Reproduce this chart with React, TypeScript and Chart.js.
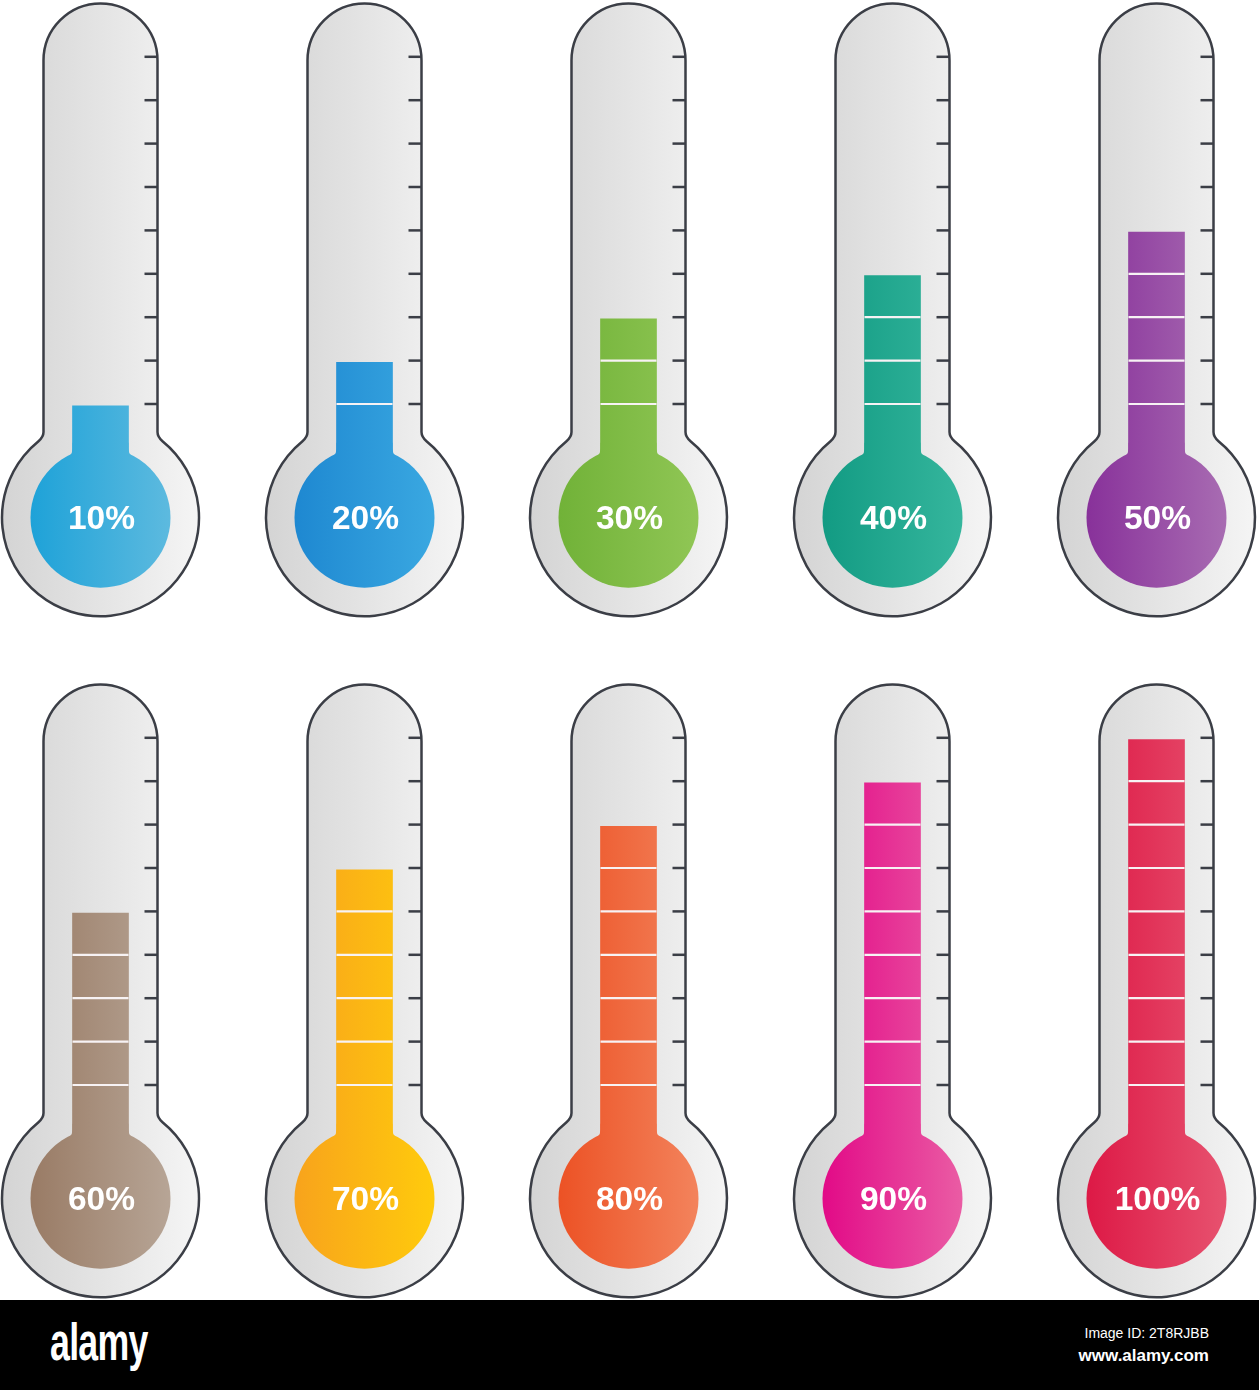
import React, { useEffect, useRef } from 'react';
import { Chart, registerables } from 'chart.js';

Chart.register(...registerables);

// ---- data ----
const row1Labels = ['10%', '20%', '30%', '40%', '50%'];
const row2Labels = ['60%', '70%', '80%', '90%', '100%'];
// fill level (top of the coloured column) read against the tick scale
const row1Fill = [9.6, 19.6, 29.6, 39.6, 49.6];
const row2Fill = [49.6, 59.6, 69.6, 79.6, 89.6];
const tickLevels = [10, 20, 30, 40, 50, 60, 70, 80, 90];
const row1Colors = [
  ['#1ea2d8', '#5dbadf'],
  ['#1e88d1', '#3aa8e1'],
  ['#71b238', '#90c655'],
  ['#129b83', '#35b69d'],
  ['#88319a', '#a86cb2'],
];
const row2Colors = [
  ['#997b65', '#b7a596'],
  ['#f8a31c', '#ffcb0c'],
  ['#ec5225', '#f3835c'],
  ['#e20a87', '#ea5ca4'],
  ['#dd1946', '#e7526f'],
];
const footerLogo = 'alamy';
const footerId = 'Image ID: 2T8RJBB';
const footerUrl = 'www.alamy.com';

// ---- scale anchors (data units) ----
const Y_MIN = -50;
const Y_MAX = 100;
const SHELL_TOP_LEVEL = 102.3;
const BULB_LEVEL = -16.2;

// ---- styles ----
const TUBE_HALF = 57;
const BULB_R_OUTER = 98.5;
const BULB_R_INNER = 70;
const BAR_W = 56;
const TICK_LEN = 13;
const OUTLINE = '#3b3e46';

function drawShell(ctx: CanvasRenderingContext2D, cx: number, topY: number, cyB: number) {
  const capY = topY + TUBE_HALF;
  const px = 62;
  const py = Math.sqrt(BULB_R_OUTER * BULB_R_OUTER - px * px);
  // tangent-based fillet control point
  const t = (TUBE_HALF - px) / py;
  const ctrlY = -py + px * t;
  const joinY = cyB + ctrlY - 5;
  const aR = Math.atan2(-py, px);
  const aL = Math.atan2(-py, -px) + Math.PI * 2;
  ctx.save();
  ctx.beginPath();
  ctx.moveTo(cx - TUBE_HALF, joinY);
  ctx.lineTo(cx - TUBE_HALF, capY);
  ctx.arc(cx, capY, TUBE_HALF, Math.PI, Math.PI * 2, false);
  ctx.lineTo(cx + TUBE_HALF, joinY);
  ctx.quadraticCurveTo(cx + TUBE_HALF, cyB + ctrlY, cx + px, cyB - py);
  ctx.arc(cx, cyB, BULB_R_OUTER, aR, aL, false);
  ctx.quadraticCurveTo(cx - TUBE_HALF, cyB + ctrlY, cx - TUBE_HALF, joinY);
  ctx.closePath();
  const g = ctx.createLinearGradient(cx - BULB_R_OUTER, 0, cx + BULB_R_OUTER, 0);
  g.addColorStop(0, '#d4d4d4');
  g.addColorStop(0.5, '#e4e4e4');
  g.addColorStop(1, '#f5f5f5');
  ctx.fillStyle = g;
  ctx.fill();
  ctx.lineWidth = 2.5;
  ctx.strokeStyle = OUTLINE;
  ctx.stroke();
  ctx.restore();
}

function makeGradient(ctx: CanvasRenderingContext2D, cx: number, c: string[]) {
  const g = ctx.createLinearGradient(cx - BULB_R_INNER, 0, cx + BULB_R_INNER, 0);
  g.addColorStop(0, c[0]);
  g.addColorStop(1, c[1]);
  return g;
}

const thermoPlugin = {
  id: 'thermo',
  beforeDatasetsDraw(chart: any) {
    const ctx: CanvasRenderingContext2D = chart.ctx;
    const ys = chart.scales.y;
    const colors: string[][] = chart.options.plugins.thermo.colors;
    const meta = chart.getDatasetMeta(0);
    const topY = ys.getPixelForValue(SHELL_TOP_LEVEL);
    const cyB = ys.getPixelForValue(BULB_LEVEL);
    meta.data.forEach((bar: any, i: number) => {
      const cx = bar.x;
      drawShell(ctx, cx, topY, cyB);
      // ticks
      ctx.save();
      ctx.strokeStyle = OUTLINE;
      ctx.lineWidth = 2.5;
      tickLevels.forEach((t) => {
        const y = ys.getPixelForValue(t);
        ctx.beginPath();
        ctx.moveTo(cx + TUBE_HALF - TICK_LEN, y);
        ctx.lineTo(cx + TUBE_HALF, y);
        ctx.stroke();
      });
      ctx.restore();
      // coloured bulb with neck fillet
      const hw = BAR_W / 2;
      const fx = 40;
      const fy = Math.sqrt(BULB_R_INNER * BULB_R_INNER - fx * fx);
      ctx.save();
      ctx.fillStyle = makeGradient(ctx, cx, colors[i]);
      ctx.beginPath();
      ctx.arc(cx, cyB, BULB_R_INNER, 0, Math.PI * 2);
      ctx.fill();
      ctx.beginPath();
      ctx.moveTo(cx - hw, cyB - 75);
      ctx.lineTo(cx - hw, cyB - 69);
      ctx.quadraticCurveTo(cx - hw, cyB - 60, cx - fx, cyB - fy);
      ctx.lineTo(cx + fx, cyB - fy);
      ctx.quadraticCurveTo(cx + hw, cyB - 60, cx + hw, cyB - 69);
      ctx.lineTo(cx + hw, cyB - 75);
      ctx.closePath();
      ctx.fill();
      ctx.restore();
    });
  },
  afterDatasetsDraw(chart: any) {
    const ctx: CanvasRenderingContext2D = chart.ctx;
    const ys = chart.scales.y;
    const labels: string[] = chart.data.labels;
    const fills: number[] = chart.options.plugins.thermo.fills;
    const meta = chart.getDatasetMeta(0);
    const cyB = ys.getPixelForValue(BULB_LEVEL);
    meta.data.forEach((bar: any, i: number) => {
      const cx = bar.x;
      const hw = BAR_W / 2;
      ctx.save();
      ctx.strokeStyle = '#f7f2f4';
      ctx.lineWidth = 2.2;
      tickLevels.forEach((t) => {
        if (t < fills[i] - 1) {
          const y = ys.getPixelForValue(t);
          ctx.beginPath();
          ctx.moveTo(cx - hw, y);
          ctx.lineTo(cx + hw, y);
          ctx.stroke();
        }
      });
      ctx.fillStyle = '#ffffff';
      ctx.font = 'bold 33.5px "Liberation Sans", Arial, sans-serif';
      ctx.textAlign = 'center';
      ctx.textBaseline = 'alphabetic';
      ctx.fillText(labels[i], cx + 1, cyB + 11.5);
      ctx.restore();
    });
  },
};

function buildChart(canvas: HTMLCanvasElement, labels: string[], fills: number[], colors: string[][]) {
  return new Chart(canvas, {
    type: 'bar',
    data: {
      labels,
      datasets: [
        {
          data: fills.map((f) => [BULB_LEVEL, f]) as any,
          backgroundColor: (c: any) => {
            const ch = c.chart;
            const xs = ch.scales && ch.scales.x;
            const col = colors[c.dataIndex] || colors[0];
            if (!xs || !ch.chartArea || c.dataIndex === undefined) return col[0];
            const cx = xs.getPixelForValue(c.dataIndex);
            return makeGradient(ch.ctx, cx, col);
          },
          borderWidth: 0,
          barThickness: BAR_W,
          clip: false as any,
        },
      ],
    },
    options: {
      responsive: false,
      devicePixelRatio: 1,
      animation: false,
      events: [],
      layout: { padding: { left: 100.5, right: 102.5, top: 13.4, bottom: 16.6 } },
      scales: {
        x: { type: 'category', offset: false, display: false, grid: { offset: false } },
        y: { min: Y_MIN, max: Y_MAX, display: false },
      },
      plugins: {
        legend: { display: false },
        tooltip: { enabled: false },
        // @ts-ignore
        thermo: { colors, fills },
      },
    } as any,
    plugins: [thermoPlugin],
  });
}

export default function App() {
  const ref1 = useRef<HTMLCanvasElement>(null);
  const ref2 = useRef<HTMLCanvasElement>(null);

  useEffect(() => {
    const c1 = buildChart(ref1.current!, row1Labels, row1Fill, row1Colors);
    const c2 = buildChart(ref2.current!, row2Labels, row2Fill, row2Colors);
    return () => {
      c1.destroy();
      c2.destroy();
    };
  }, []);

  const font = '"Liberation Sans", Arial, sans-serif';
  return (
    <div
      style={{
        position: 'absolute',
        left: 0,
        top: 0,
        width: 1259,
        height: 1390,
        background: '#ffffff',
        overflow: 'hidden',
      }}
    >
      <canvas ref={ref1} width={1259} height={681} style={{ position: 'absolute', left: 0, top: 0, width: 1259, height: 681 }} />
      <canvas ref={ref2} width={1259} height={681} style={{ position: 'absolute', left: 0, top: 681, width: 1259, height: 681 }} />
      <div style={{ position: 'absolute', left: 0, top: 1300, width: 1259, height: 90, background: '#000000' }}>
        <div
          style={{
            position: 'absolute',
            left: 50,
            top: 16.8,
            fontFamily: font,
            fontWeight: 'bold',
            fontSize: 51,
            lineHeight: '51px',
            color: '#ffffff',
            transform: 'scaleX(0.70)',
            transformOrigin: 'left top',
            whiteSpace: 'nowrap',
            letterSpacing: -1,
          }}
        >
          {footerLogo}
        </div>
        <div
          style={{
            position: 'absolute',
            right: 50,
            top: 25.9,
            fontFamily: font,
            fontSize: 14,
            lineHeight: '14px',
            color: '#ffffff',
            whiteSpace: 'nowrap',
            textAlign: 'right',
          }}
        >
          {footerId}
        </div>
        <div
          style={{
            position: 'absolute',
            right: 50,
            top: 47.3,
            fontFamily: font,
            fontWeight: 'bold',
            fontSize: 17,
            lineHeight: '17px',
            color: '#ffffff',
            whiteSpace: 'nowrap',
            textAlign: 'right',
          }}
        >
          {footerUrl}
        </div>
      </div>
    </div>
  );
}
